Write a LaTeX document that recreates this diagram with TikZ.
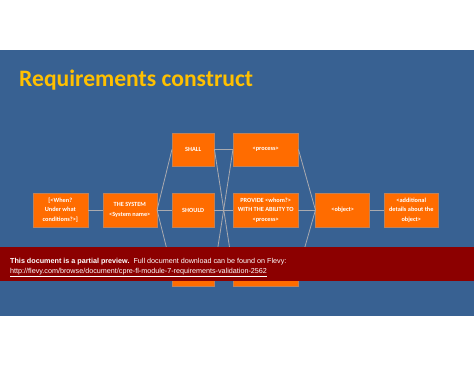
\documentclass[tikz,border=0pt]{standalone}
\usepackage{fontspec}
\setmainfont{Carlito}
\newfontfamily\arialf{Liberation Sans}
\definecolor{slide}{RGB}{56,97,146}
\definecolor{boxor}{RGB}{255,108,0}
\definecolor{boxedge}{RGB}{190,130,90}
\definecolor{conn}{RGB}{170,170,175}
\definecolor{ttl}{RGB}{255,192,0}
\definecolor{banner}{RGB}{140,0,0}
\tikzset{
  box/.style={fill=boxor, draw=boxedge, line width=0.5pt, minimum height=34pt, inner sep=0pt,
    text=white, align=center, font=\bfseries\fontsize{6.3}{9.5}\selectfont},
  conn/.style={draw=conn, line width=0.8pt}
}
\begin{document}
\begin{tikzpicture}[x=1pt,y=-1pt]
\useasboundingbox (0,0) rectangle (474,366);
\fill[white] (0,0) rectangle (474,366);
\fill[slide] (0,50) rectangle (474,316);
\node[anchor=base west, text=ttl, font=\bfseries\fontsize{23.6}{26}\selectfont, inner sep=0pt] (title) at (19,87) {Requirements construct};
% boxes
\node[box, minimum width=55pt] (when) at (60.3,210) {[<When?\\Under what\\conditions?>]};
\node[box, minimum width=54pt] (sys) at (129.8,210) {THE SYSTEM\\<System name>};
\node[box, minimum width=42pt, minimum height=33pt] (shall) at (193.2,149.5) {SHALL};
\node[box, minimum width=42pt] (should) at (193.2,210) {SHOULD};
\node[box, minimum width=42pt] (modal) at (193.2,269.5) {};
\node[box, minimum width=65pt, minimum height=33pt] (proc) at (265.7,149.5) {<process>};
\node[box, minimum width=65pt] (prov) at (265.7,210) {PROVIDE <whom?>\\WITH THE ABILITY TO\\<process>};
\node[box, minimum width=65pt] (proc3) at (265.7,269.5) {};
\node[box, minimum width=54pt] (obj) at (342.7,210) {<object>};
\node[box, minimum width=54pt] (add) at (411.3,210) {<additional\\details about the\\object>};
% connectors
\draw[conn] (when.east) -- (sys.west);
\draw[conn] (sys.east) -- (shall.west);
\draw[conn] (sys.east) -- (should.west);
\draw[conn] (sys.east) -- (modal.west);
\draw[conn] (shall.east) -- (proc.west);
\draw[conn] (shall.east) -- (proc3.west);
\draw[conn] (should.east) -- (prov.west);
\draw[conn] (modal.east) -- (proc.west);
\draw[conn] (modal.east) -- (proc3.west);
\draw[conn] (proc.east) -- (obj.west);
\draw[conn] (prov.east) -- (obj.west);
\draw[conn] (proc3.east) -- (obj.west);
\draw[conn] (obj.east) -- (add.west);
% banner
\fill[banner] (0,247.3) rectangle (474,281.3);
\node[anchor=base west, inner sep=0pt, text=white, font=\arialf\fontsize{7.2}{9.5}\selectfont, align=left] (note) at (10,273)
  {\textbf{This document is a partial preview.}\ \ Full document download can be found on Flevy:\\
   \underline{http://flevy.com/browse/document/cpre-fl-module-7-requirements-validation-2562}};
\end{tikzpicture}
\end{document}
